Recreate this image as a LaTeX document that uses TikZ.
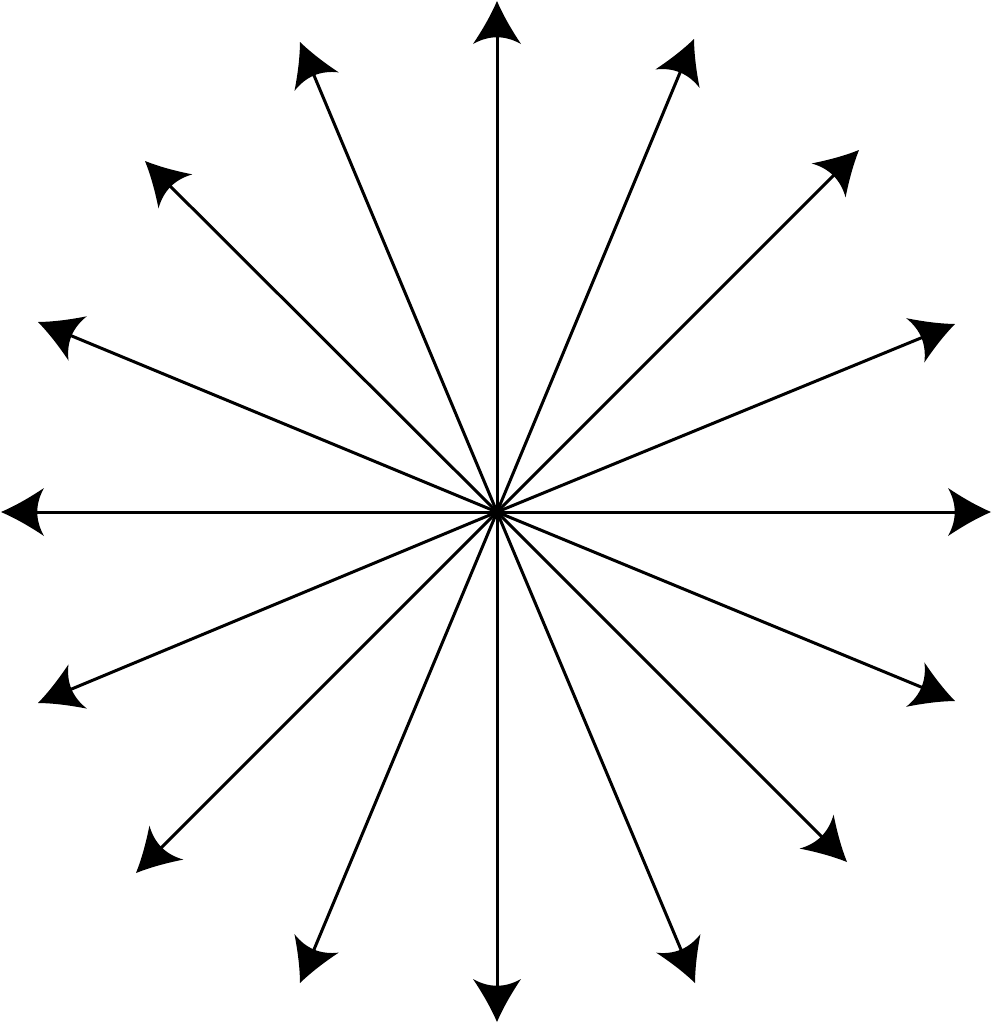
\documentclass[tikz,border=0pt]{standalone}
\usetikzlibrary{arrows.meta}
\pgfdeclarearrow{
  name=ConcaveHead,
  setup code={
    \pgfarrowssettipend{0pt}
    \pgfarrowssetlineend{-17pt}
    \pgfarrowssetbackend{-21.5pt}
    \pgfarrowshullpoint{0pt}{0pt}
    \pgfarrowshullpoint{-21.5pt}{12pt}
    \pgfarrowshullpoint{-21.5pt}{-12pt}
  },
  drawing code={
    \pgfpathmoveto{\pgfqpoint{0pt}{0pt}}
    \pgfpathcurveto{\pgfqpoint{-7.2pt}{3.1pt}}{\pgfqpoint{-14.3pt}{7.2pt}}{\pgfqpoint{-21.5pt}{12pt}}
    \pgfpathcurveto{\pgfqpoint{-17pt}{4pt}}{\pgfqpoint{-17pt}{-4pt}}{\pgfqpoint{-21.5pt}{-12pt}}
    \pgfpathcurveto{\pgfqpoint{-14.3pt}{-7.2pt}}{\pgfqpoint{-7.2pt}{-3.1pt}}{\pgfqpoint{0pt}{0pt}}
    \pgfpathclose
    \pgfusepathqfill
  },
  parameters={}
}
\tikzset{
  ray/.style={line width=1.5pt, -{ConcaveHead}}
}
\begin{document}
\begin{tikzpicture}[x=0.5pt, y=-0.5pt]
\useasboundingbox (0,0) rectangle (993,1024);
\coordinate (c) at (497,512);
\coordinate (t0) at (991,512);
\coordinate (t1) at (955,324);
\coordinate (t2) at (859,150);
\coordinate (t3) at (694,39);
\coordinate (t4) at (497,1);
\coordinate (t5) at (300,42);
\coordinate (t6) at (145,161);
\coordinate (t7) at (38,322);
\coordinate (t8) at (1,512);
\coordinate (t9) at (38,703);
\coordinate (t10) at (136,873);
\coordinate (t11) at (300,983);
\coordinate (t12) at (497,1022);
\coordinate (t13) at (695,983);
\coordinate (t14) at (847,862);
\coordinate (t15) at (955,701);
\foreach \i in {0,...,15} {
  \draw[ray] (c) -- (t\i);
}
\end{tikzpicture}
\end{document}
